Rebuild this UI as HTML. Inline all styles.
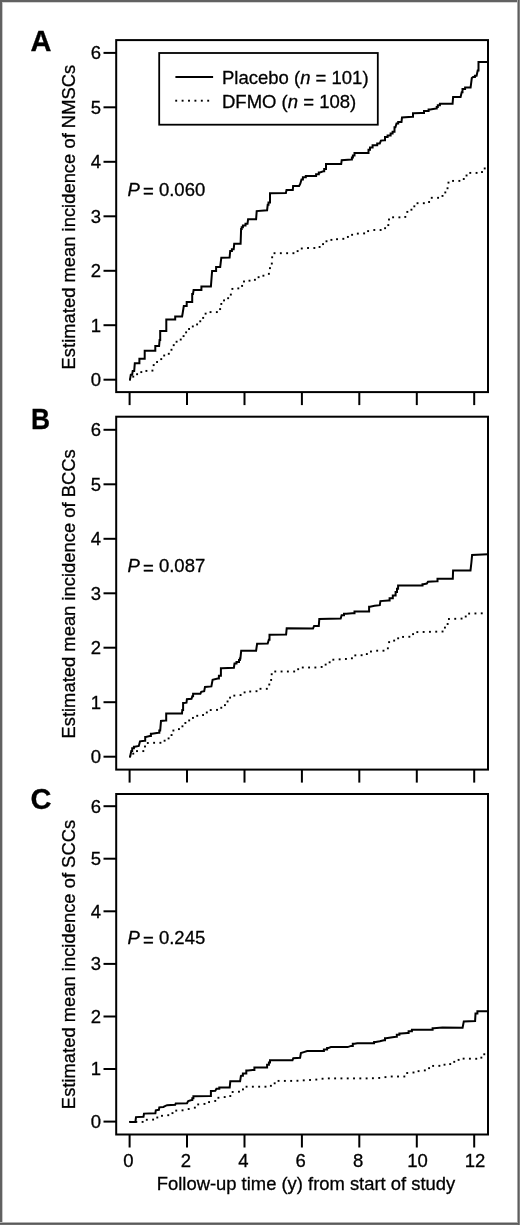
<!DOCTYPE html>
<html><head><meta charset="utf-8"><title>Figure</title>
<style>
html,body{margin:0;padding:0;background:#fff;}
body{width:520px;height:1225px;position:relative;overflow:hidden;}
svg{position:absolute;left:0;top:0;}
text{font-family:"Liberation Sans",Arial,Helvetica,sans-serif;fill:#000;stroke:#000;stroke-width:0.3px;}
.b{position:absolute;}
</style></head><body>
<svg width="520" height="1225" viewBox="0 0 520 1225">

<rect x="116.2" y="40.1" width="371.8" height="352.0" fill="none" stroke="#000" stroke-width="2"/>
<line x1="103.5" y1="379.7" x2="116.2" y2="379.7" stroke="#000" stroke-width="2"/>
<text x="101" y="386.0" font-size="18.5" text-anchor="end">0</text>
<line x1="103.5" y1="325.2" x2="116.2" y2="325.2" stroke="#000" stroke-width="2"/>
<text x="101" y="331.5" font-size="18.5" text-anchor="end">1</text>
<line x1="103.5" y1="270.8" x2="116.2" y2="270.8" stroke="#000" stroke-width="2"/>
<text x="101" y="277.1" font-size="18.5" text-anchor="end">2</text>
<line x1="103.5" y1="216.3" x2="116.2" y2="216.3" stroke="#000" stroke-width="2"/>
<text x="101" y="222.6" font-size="18.5" text-anchor="end">3</text>
<line x1="103.5" y1="161.8" x2="116.2" y2="161.8" stroke="#000" stroke-width="2"/>
<text x="101" y="168.1" font-size="18.5" text-anchor="end">4</text>
<line x1="103.5" y1="107.3" x2="116.2" y2="107.3" stroke="#000" stroke-width="2"/>
<text x="101" y="113.6" font-size="18.5" text-anchor="end">5</text>
<line x1="103.5" y1="52.9" x2="116.2" y2="52.9" stroke="#000" stroke-width="2"/>
<text x="101" y="59.2" font-size="18.5" text-anchor="end">6</text>
<line x1="129.6" y1="392.1" x2="129.6" y2="405.1" stroke="#000" stroke-width="2"/>
<line x1="187.0" y1="392.1" x2="187.0" y2="405.1" stroke="#000" stroke-width="2"/>
<line x1="244.5" y1="392.1" x2="244.5" y2="405.1" stroke="#000" stroke-width="2"/>
<line x1="301.9" y1="392.1" x2="301.9" y2="405.1" stroke="#000" stroke-width="2"/>
<line x1="359.3" y1="392.1" x2="359.3" y2="405.1" stroke="#000" stroke-width="2"/>
<line x1="416.8" y1="392.1" x2="416.8" y2="405.1" stroke="#000" stroke-width="2"/>
<line x1="474.2" y1="392.1" x2="474.2" y2="405.1" stroke="#000" stroke-width="2"/>
<text x="30.6" y="50.8" font-size="29" font-weight="bold">A</text>
<text transform="translate(75,217.1) rotate(-90)" font-size="18.4" text-anchor="middle">Estimated mean incidence of NMSCs</text>
<text x="127.5" y="196.0" font-size="18.5"><tspan font-style="italic">P</tspan><tspan dx="-2" dy="1.3"> =</tspan><tspan dy="-1.3"> 0.060</tspan></text>
<g fill="#000"><rect x="129.05" y="378.75" width="1.9" height="1.9"/><rect x="132.30" y="375.70" width="1.9" height="1.9"/><rect x="136.15" y="373.25" width="1.9" height="1.9"/><rect x="140.35" y="371.15" width="1.9" height="1.9"/><rect x="145.45" y="369.95" width="1.9" height="1.9"/><rect x="151.48" y="369.65" width="1.9" height="1.9"/><rect x="152.73" y="364.15" width="1.9" height="1.9"/><rect x="156.11" y="361.06" width="1.9" height="1.9"/><rect x="160.30" y="358.16" width="1.9" height="1.9"/><rect x="163.24" y="354.55" width="1.9" height="1.9"/><rect x="167.84" y="352.85" width="1.9" height="1.9"/><rect x="170.53" y="348.81" width="1.9" height="1.9"/><rect x="172.77" y="344.20" width="1.9" height="1.9"/><rect x="175.65" y="340.78" width="1.9" height="1.9"/><rect x="179.77" y="338.60" width="1.9" height="1.9"/><rect x="182.62" y="335.15" width="1.9" height="1.9"/><rect x="185.17" y="331.40" width="1.9" height="1.9"/><rect x="188.10" y="328.03" width="1.9" height="1.9"/><rect x="191.85" y="325.48" width="1.9" height="1.9"/><rect x="196.15" y="323.48" width="1.9" height="1.9"/><rect x="199.30" y="320.33" width="1.9" height="1.9"/><rect x="202.20" y="316.93" width="1.9" height="1.9"/><rect x="204.66" y="312.70" width="1.9" height="1.9"/><rect x="209.59" y="311.15" width="1.9" height="1.9"/><rect x="215.89" y="311.15" width="1.9" height="1.9"/><rect x="219.18" y="308.14" width="1.9" height="1.9"/><rect x="220.35" y="303.01" width="1.9" height="1.9"/><rect x="223.09" y="299.45" width="1.9" height="1.9"/><rect x="227.19" y="297.25" width="1.9" height="1.9"/><rect x="229.88" y="293.64" width="1.9" height="1.9"/><rect x="231.44" y="287.94" width="1.9" height="1.9"/><rect x="237.35" y="287.45" width="1.9" height="1.9"/><rect x="241.15" y="284.95" width="1.9" height="1.9"/><rect x="243.05" y="280.55" width="1.9" height="1.9"/><rect x="248.55" y="279.75" width="1.9" height="1.9"/><rect x="253.95" y="278.85" width="1.9" height="1.9"/><rect x="257.65" y="276.25" width="1.9" height="1.9"/><rect x="262.45" y="274.75" width="1.9" height="1.9"/><rect x="267.93" y="272.88" width="1.9" height="1.9"/><rect x="269.02" y="267.19" width="1.9" height="1.9"/><rect x="270.86" y="262.61" width="1.9" height="1.9"/><rect x="271.21" y="256.32" width="1.9" height="1.9"/><rect x="273.57" y="252.25" width="1.9" height="1.9"/><rect x="279.87" y="252.25" width="1.9" height="1.9"/><rect x="286.17" y="252.25" width="1.9" height="1.9"/><rect x="292.47" y="252.25" width="1.9" height="1.9"/><rect x="296.67" y="250.15" width="1.9" height="1.9"/><rect x="300.82" y="247.54" width="1.9" height="1.9"/><rect x="307.08" y="247.05" width="1.9" height="1.9"/><rect x="313.38" y="247.05" width="1.9" height="1.9"/><rect x="318.65" y="246.02" width="1.9" height="1.9"/><rect x="322.10" y="243.17" width="1.9" height="1.9"/><rect x="325.55" y="240.32" width="1.9" height="1.9"/><rect x="330.45" y="238.92" width="1.9" height="1.9"/><rect x="336.08" y="238.25" width="1.9" height="1.9"/><rect x="342.36" y="237.87" width="1.9" height="1.9"/><rect x="346.94" y="235.95" width="1.9" height="1.9"/><rect x="351.15" y="233.86" width="1.9" height="1.9"/><rect x="356.88" y="232.65" width="1.9" height="1.9"/><rect x="363.17" y="232.45" width="1.9" height="1.9"/><rect x="367.17" y="230.15" width="1.9" height="1.9"/><rect x="373.35" y="229.05" width="1.9" height="1.9"/><rect x="379.65" y="229.05" width="1.9" height="1.9"/><rect x="384.15" y="227.25" width="1.9" height="1.9"/><rect x="387.35" y="224.15" width="1.9" height="1.9"/><rect x="388.05" y="218.55" width="1.9" height="1.9"/><rect x="392.15" y="216.35" width="1.9" height="1.9"/><rect x="398.45" y="216.40" width="1.9" height="1.9"/><rect x="404.33" y="215.96" width="1.9" height="1.9"/><rect x="406.38" y="210.95" width="1.9" height="1.9"/><rect x="410.48" y="208.75" width="1.9" height="1.9"/><rect x="413.38" y="205.35" width="1.9" height="1.9"/><rect x="416.58" y="202.25" width="1.9" height="1.9"/><rect x="422.88" y="202.25" width="1.9" height="1.9"/><rect x="428.13" y="201.04" width="1.9" height="1.9"/><rect x="430.82" y="196.85" width="1.9" height="1.9"/><rect x="437.12" y="196.85" width="1.9" height="1.9"/><rect x="441.55" y="194.98" width="1.9" height="1.9"/><rect x="444.35" y="191.48" width="1.9" height="1.9"/><rect x="446.58" y="187.29" width="1.9" height="1.9"/><rect x="447.53" y="181.67" width="1.9" height="1.9"/><rect x="452.11" y="179.95" width="1.9" height="1.9"/><rect x="458.41" y="179.95" width="1.9" height="1.9"/><rect x="462.81" y="178.05" width="1.9" height="1.9"/><rect x="465.60" y="174.54" width="1.9" height="1.9"/><rect x="469.31" y="171.95" width="1.9" height="1.9"/><rect x="475.61" y="171.95" width="1.9" height="1.9"/><rect x="481.05" y="171.09" width="1.9" height="1.9"/><rect x="483.76" y="167.50" width="1.9" height="1.9"/></g>
<polyline points="130.0,379.7 130.8,374.7 132.2,374.7 132.7,370.9 134.2,370.9 134.8,363.2 139.4,363.2 139.4,358.8 144.7,358.8 144.7,350.7 155.3,350.7 155.3,345.9 159.1,345.9 159.6,340.0 160.2,340.0 160.2,331.0 160.8,331.0 166.3,331.0 166.3,319.4 175.2,319.4 175.2,316.5 182.1,316.5 182.7,313.0 183.8,306.1 186.7,306.1 186.7,302.1 191.3,302.1 192.2,302.1 192.2,294.0 193.0,294.0 193.6,290.0 200.6,290.0 201.4,290.0 201.4,286.5 202.3,286.5 210.9,286.5 212.1,271.0 216.1,271.0 216.1,266.9 220.2,266.9 221.3,257.7 229.6,257.5 230.2,250.9 231.9,250.9 231.9,249.2 233.7,249.2 234.2,243.8 240.6,243.8 241.1,229.0 241.7,229.0 241.7,227.3 242.9,227.3 242.9,225.6 243.5,225.6 245.5,225.6 245.5,223.8 247.5,223.8 248.1,219.2 256.1,219.2 256.7,211.1 267.1,210.2 267.7,204.8 268.5,204.8 268.5,202.5 269.4,202.5 270.0,202.5 270.0,193.3 270.6,193.3 285.9,192.9 286.5,190.1 292.8,190.1 293.1,186.0 299.1,186.0 300.3,183.7 301.5,179.4 302.9,179.4 302.9,177.3 304.3,177.3 305.8,177.3 305.8,176.0 307.2,176.0 314.7,176.0 316.1,176.0 316.1,174.2 317.6,174.2 318.8,174.2 318.8,172.5 319.9,172.5 323.4,171.3 324.2,171.3 324.2,169.0 325.1,169.0 326.0,169.0 326.0,164.1 326.8,164.1 341.2,164.1 341.7,160.2 351.5,159.6 351.9,159.6 351.9,157.6 352.9,157.6 352.9,155.6 353.3,155.6 354.5,155.6 354.5,152.9 355.6,152.9 367.7,152.9 368.5,152.9 368.5,149.8 369.4,149.8 370.0,149.8 370.0,147.5 370.6,147.5 372.6,147.5 372.6,145.2 374.6,145.2 377.2,145.2 377.2,143.4 379.8,143.4 380.9,140.6 384.4,140.2 385.0,140.2 385.0,137.1 385.6,137.1 387.6,137.1 387.6,135.6 389.6,135.6 390.6,135.6 390.6,133.6 392.6,133.6 392.6,131.7 393.6,131.7 394.5,131.7 394.5,127.3 395.4,127.3 396.5,123.6 398.2,123.6 398.2,122.1 400.0,122.1 401.5,122.1 402.0,117.5 412.4,116.7 413.0,116.7 413.0,113.3 413.6,113.3 421.1,112.9 424.0,112.9 424.0,111.0 426.8,111.0 428.6,111.0 428.6,109.5 430.3,109.5 436.1,108.6 436.7,108.6 436.7,106.9 437.8,106.9 437.8,105.2 438.4,105.2 439.9,105.2 439.9,103.7 441.3,103.7 452.6,103.7 453.1,96.9 460.6,96.9 461.7,92.3 462.5,92.3 462.5,88.9 463.4,88.9 465.1,88.9 465.1,87.5 466.9,87.5 470.6,87.5 471.8,78.0 473.1,76.9 474.9,76.9 474.9,75.7 476.6,75.7 477.7,70.6 478.5,70.6 478.5,62.0 479.4,62.0 488.0,62.0" fill="none" stroke="#000" stroke-width="2" stroke-linejoin="miter"/>
<rect x="116.2" y="416.7" width="371.8" height="352.9" fill="none" stroke="#000" stroke-width="2"/>
<line x1="103.5" y1="756.7" x2="116.2" y2="756.7" stroke="#000" stroke-width="2"/>
<text x="101" y="763.0" font-size="18.5" text-anchor="end">0</text>
<line x1="103.5" y1="702.2" x2="116.2" y2="702.2" stroke="#000" stroke-width="2"/>
<text x="101" y="708.5" font-size="18.5" text-anchor="end">1</text>
<line x1="103.5" y1="647.7" x2="116.2" y2="647.7" stroke="#000" stroke-width="2"/>
<text x="101" y="654.0" font-size="18.5" text-anchor="end">2</text>
<line x1="103.5" y1="593.3" x2="116.2" y2="593.3" stroke="#000" stroke-width="2"/>
<text x="101" y="599.6" font-size="18.5" text-anchor="end">3</text>
<line x1="103.5" y1="538.8" x2="116.2" y2="538.8" stroke="#000" stroke-width="2"/>
<text x="101" y="545.1" font-size="18.5" text-anchor="end">4</text>
<line x1="103.5" y1="484.3" x2="116.2" y2="484.3" stroke="#000" stroke-width="2"/>
<text x="101" y="490.6" font-size="18.5" text-anchor="end">5</text>
<line x1="103.5" y1="429.8" x2="116.2" y2="429.8" stroke="#000" stroke-width="2"/>
<text x="101" y="436.1" font-size="18.5" text-anchor="end">6</text>
<line x1="129.6" y1="769.6" x2="129.6" y2="782.6" stroke="#000" stroke-width="2"/>
<line x1="187.0" y1="769.6" x2="187.0" y2="782.6" stroke="#000" stroke-width="2"/>
<line x1="244.5" y1="769.6" x2="244.5" y2="782.6" stroke="#000" stroke-width="2"/>
<line x1="301.9" y1="769.6" x2="301.9" y2="782.6" stroke="#000" stroke-width="2"/>
<line x1="359.3" y1="769.6" x2="359.3" y2="782.6" stroke="#000" stroke-width="2"/>
<line x1="416.8" y1="769.6" x2="416.8" y2="782.6" stroke="#000" stroke-width="2"/>
<line x1="474.2" y1="769.6" x2="474.2" y2="782.6" stroke="#000" stroke-width="2"/>
<text transform="translate(31.0,428.8) scale(0.91,1)" font-size="29" font-weight="bold">B</text>
<text transform="translate(75,593.9) rotate(-90)" font-size="18.4" text-anchor="middle">Estimated mean incidence of BCCs</text>
<text x="127.5" y="572.3" font-size="18.5"><tspan font-style="italic">P</tspan><tspan dx="-2" dy="1.3"> =</tspan><tspan dy="-1.3"> 0.087</tspan></text>
<g fill="#000"><rect x="129.05" y="755.75" width="1.9" height="1.9"/><rect x="132.30" y="752.70" width="1.9" height="1.9"/><rect x="136.05" y="750.15" width="1.9" height="1.9"/><rect x="142.35" y="750.15" width="1.9" height="1.9"/><rect x="144.05" y="745.55" width="1.9" height="1.9"/><rect x="146.85" y="742.05" width="1.9" height="1.9"/><rect x="153.15" y="741.85" width="1.9" height="1.9"/><rect x="159.45" y="741.85" width="1.9" height="1.9"/><rect x="163.65" y="739.75" width="1.9" height="1.9"/><rect x="167.65" y="737.45" width="1.9" height="1.9"/><rect x="170.60" y="734.10" width="1.9" height="1.9"/><rect x="172.44" y="729.57" width="1.9" height="1.9"/><rect x="178.00" y="728.16" width="1.9" height="1.9"/><rect x="181.49" y="725.35" width="1.9" height="1.9"/><rect x="184.43" y="721.99" width="1.9" height="1.9"/><rect x="188.23" y="719.49" width="1.9" height="1.9"/><rect x="191.99" y="716.95" width="1.9" height="1.9"/><rect x="196.28" y="714.84" width="1.9" height="1.9"/><rect x="202.10" y="714.08" width="1.9" height="1.9"/><rect x="205.85" y="711.53" width="1.9" height="1.9"/><rect x="209.77" y="709.09" width="1.9" height="1.9"/><rect x="216.07" y="708.93" width="1.9" height="1.9"/><rect x="220.32" y="706.80" width="1.9" height="1.9"/><rect x="224.00" y="704.18" width="1.9" height="1.9"/><rect x="226.62" y="700.51" width="1.9" height="1.9"/><rect x="229.12" y="696.70" width="1.9" height="1.9"/><rect x="233.37" y="694.65" width="1.9" height="1.9"/><rect x="239.61" y="694.12" width="1.9" height="1.9"/><rect x="243.65" y="691.43" width="1.9" height="1.9"/><rect x="249.26" y="690.56" width="1.9" height="1.9"/><rect x="255.55" y="690.25" width="1.9" height="1.9"/><rect x="259.55" y="687.85" width="1.9" height="1.9"/><rect x="265.85" y="687.85" width="1.9" height="1.9"/><rect x="268.32" y="683.57" width="1.9" height="1.9"/><rect x="270.18" y="679.01" width="1.9" height="1.9"/><rect x="270.75" y="673.28" width="1.9" height="1.9"/><rect x="274.32" y="670.55" width="1.9" height="1.9"/><rect x="280.62" y="670.55" width="1.9" height="1.9"/><rect x="286.92" y="670.55" width="1.9" height="1.9"/><rect x="293.22" y="670.55" width="1.9" height="1.9"/><rect x="297.22" y="668.25" width="1.9" height="1.9"/><rect x="301.82" y="666.55" width="1.9" height="1.9"/><rect x="308.12" y="666.55" width="1.9" height="1.9"/><rect x="314.42" y="666.55" width="1.9" height="1.9"/><rect x="320.69" y="666.00" width="1.9" height="1.9"/><rect x="324.69" y="663.65" width="1.9" height="1.9"/><rect x="328.69" y="661.35" width="1.9" height="1.9"/><rect x="332.39" y="658.74" width="1.9" height="1.9"/><rect x="338.68" y="658.38" width="1.9" height="1.9"/><rect x="344.97" y="658.01" width="1.9" height="1.9"/><rect x="350.95" y="657.34" width="1.9" height="1.9"/><rect x="354.36" y="654.42" width="1.9" height="1.9"/><rect x="360.65" y="654.26" width="1.9" height="1.9"/><rect x="365.90" y="653.10" width="1.9" height="1.9"/><rect x="370.01" y="650.59" width="1.9" height="1.9"/><rect x="376.22" y="649.75" width="1.9" height="1.9"/><rect x="382.52" y="649.75" width="1.9" height="1.9"/><rect x="386.92" y="647.35" width="1.9" height="1.9"/><rect x="388.17" y="641.18" width="1.9" height="1.9"/><rect x="393.20" y="639.65" width="1.9" height="1.9"/><rect x="397.20" y="637.35" width="1.9" height="1.9"/><rect x="402.10" y="635.95" width="1.9" height="1.9"/><rect x="408.39" y="635.80" width="1.9" height="1.9"/><rect x="412.12" y="633.18" width="1.9" height="1.9"/><rect x="416.39" y="631.15" width="1.9" height="1.9"/><rect x="422.69" y="631.02" width="1.9" height="1.9"/><rect x="428.99" y="630.87" width="1.9" height="1.9"/><rect x="435.29" y="630.72" width="1.9" height="1.9"/><rect x="441.59" y="630.57" width="1.9" height="1.9"/><rect x="443.98" y="626.64" width="1.9" height="1.9"/><rect x="446.69" y="623.05" width="1.9" height="1.9"/><rect x="447.99" y="618.05" width="1.9" height="1.9"/><rect x="454.28" y="617.85" width="1.9" height="1.9"/><rect x="460.58" y="617.65" width="1.9" height="1.9"/><rect x="464.78" y="615.55" width="1.9" height="1.9"/><rect x="468.18" y="612.64" width="1.9" height="1.9"/><rect x="474.48" y="612.51" width="1.9" height="1.9"/><rect x="480.78" y="612.38" width="1.9" height="1.9"/></g>
<polyline points="130.0,756.7 130.2,756.3 131.3,751.1 132.2,751.1 132.2,748.2 133.1,748.2 133.9,748.2 133.9,746.7 134.8,746.7 138.8,745.9 140.0,741.3 144.6,740.7 145.2,740.7 145.2,737.0 145.8,737.0 149.8,736.1 150.9,736.1 150.9,733.8 152.1,733.8 158.4,732.7 159.3,732.7 159.3,730.4 160.2,730.4 161.0,720.9 165.4,720.6 166.2,720.6 166.2,713.6 167.1,713.6 182.0,713.6 182.3,710.0 183.1,710.0 183.1,703.1 183.8,703.1 186.5,702.7 186.9,699.2 191.5,698.8 192.3,696.2 193.1,696.2 193.1,693.8 193.8,693.8 200.4,693.8 201.2,691.9 204.2,691.2 205.0,686.9 211.4,686.4 212.6,679.8 217.8,678.6 218.9,678.6 218.9,675.7 220.1,675.7 220.9,675.7 220.9,668.3 221.8,668.3 233.9,667.7 234.5,663.6 236.5,663.6 236.5,661.9 238.5,661.9 239.0,661.9 239.0,660.1 239.9,660.1 239.9,658.4 240.4,658.4 241.2,650.7 256.1,650.7 257.1,643.8 267.7,643.6 268.8,639.8 269.5,639.8 269.5,634.8 270.2,634.8 286.1,634.6 286.7,628.3 313.0,628.6 314.1,625.9 318.8,625.9 319.3,619.0 340.7,618.4 341.6,615.2 344.0,615.2 344.0,613.8 346.4,613.8 352.2,613.3 354.5,613.3 354.5,611.4 356.8,611.4 368.3,611.5 369.1,611.5 369.1,606.7 370.0,606.7 374.6,605.8 379.8,605.2 380.4,601.1 388.4,600.6 389.6,600.6 389.6,598.3 390.8,598.3 392.8,598.3 392.8,595.4 394.8,595.4 395.6,595.4 395.6,591.9 396.5,591.9 397.0,591.9 397.0,588.8 398.1,588.8 398.1,585.6 398.6,585.6 421.7,585.6 422.5,585.6 422.5,584.2 423.4,584.2 426.8,583.6 428.0,581.7 436.6,581.3 437.5,581.3 437.5,578.7 438.4,578.7 452.8,578.7 453.1,570.5 470.5,570.4 471.4,562.5 472.1,554.9 488.0,554.2" fill="none" stroke="#000" stroke-width="2" stroke-linejoin="miter"/>
<rect x="116.2" y="794.0" width="371.8" height="340.5" fill="none" stroke="#000" stroke-width="2"/>
<line x1="103.5" y1="1121.6" x2="116.2" y2="1121.6" stroke="#000" stroke-width="2"/>
<text x="101" y="1127.9" font-size="18.5" text-anchor="end">0</text>
<line x1="103.5" y1="1069.0" x2="116.2" y2="1069.0" stroke="#000" stroke-width="2"/>
<text x="101" y="1075.3" font-size="18.5" text-anchor="end">1</text>
<line x1="103.5" y1="1016.5" x2="116.2" y2="1016.5" stroke="#000" stroke-width="2"/>
<text x="101" y="1022.8" font-size="18.5" text-anchor="end">2</text>
<line x1="103.5" y1="963.9" x2="116.2" y2="963.9" stroke="#000" stroke-width="2"/>
<text x="101" y="970.2" font-size="18.5" text-anchor="end">3</text>
<line x1="103.5" y1="911.3" x2="116.2" y2="911.3" stroke="#000" stroke-width="2"/>
<text x="101" y="917.6" font-size="18.5" text-anchor="end">4</text>
<line x1="103.5" y1="858.7" x2="116.2" y2="858.7" stroke="#000" stroke-width="2"/>
<text x="101" y="865.0" font-size="18.5" text-anchor="end">5</text>
<line x1="103.5" y1="806.2" x2="116.2" y2="806.2" stroke="#000" stroke-width="2"/>
<text x="101" y="812.5" font-size="18.5" text-anchor="end">6</text>
<line x1="129.6" y1="1134.5" x2="129.6" y2="1147.5" stroke="#000" stroke-width="2"/>
<line x1="187.0" y1="1134.5" x2="187.0" y2="1147.5" stroke="#000" stroke-width="2"/>
<line x1="244.5" y1="1134.5" x2="244.5" y2="1147.5" stroke="#000" stroke-width="2"/>
<line x1="301.9" y1="1134.5" x2="301.9" y2="1147.5" stroke="#000" stroke-width="2"/>
<line x1="359.3" y1="1134.5" x2="359.3" y2="1147.5" stroke="#000" stroke-width="2"/>
<line x1="416.8" y1="1134.5" x2="416.8" y2="1147.5" stroke="#000" stroke-width="2"/>
<line x1="474.2" y1="1134.5" x2="474.2" y2="1147.5" stroke="#000" stroke-width="2"/>
<text x="30.6" y="809.2" font-size="29" font-weight="bold">C</text>
<text transform="translate(75,964.5) rotate(-90)" font-size="18.4" text-anchor="middle">Estimated mean incidence of SCCs</text>
<text x="127.5" y="944.3" font-size="18.5"><tspan font-style="italic">P</tspan><tspan dx="-2" dy="1.3"> =</tspan><tspan dy="-1.3"> 0.245</tspan></text>
<g fill="#000"><rect x="129.05" y="1120.95" width="1.9" height="1.9"/><rect x="135.35" y="1120.95" width="1.9" height="1.9"/><rect x="141.65" y="1120.95" width="1.9" height="1.9"/><rect x="145.85" y="1118.83" width="1.9" height="1.9"/><rect x="152.15" y="1118.65" width="1.9" height="1.9"/><rect x="156.35" y="1116.55" width="1.9" height="1.9"/><rect x="161.04" y="1114.86" width="1.9" height="1.9"/><rect x="167.30" y="1114.25" width="1.9" height="1.9"/><rect x="171.53" y="1112.17" width="1.9" height="1.9"/><rect x="175.30" y="1109.65" width="1.9" height="1.9"/><rect x="181.57" y="1109.37" width="1.9" height="1.9"/><rect x="187.74" y="1108.07" width="1.9" height="1.9"/><rect x="193.89" y="1106.70" width="1.9" height="1.9"/><rect x="197.25" y="1103.46" width="1.9" height="1.9"/><rect x="203.52" y="1102.96" width="1.9" height="1.9"/><rect x="208.11" y="1101.15" width="1.9" height="1.9"/><rect x="214.28" y="1099.97" width="1.9" height="1.9"/><rect x="217.47" y="1096.82" width="1.9" height="1.9"/><rect x="223.73" y="1096.10" width="1.9" height="1.9"/><rect x="229.35" y="1095.08" width="1.9" height="1.9"/><rect x="231.71" y="1091.04" width="1.9" height="1.9"/><rect x="238.01" y="1090.75" width="1.9" height="1.9"/><rect x="242.01" y="1088.45" width="1.9" height="1.9"/><rect x="245.61" y="1085.75" width="1.9" height="1.9"/><rect x="251.91" y="1085.75" width="1.9" height="1.9"/><rect x="258.21" y="1085.75" width="1.9" height="1.9"/><rect x="264.51" y="1085.75" width="1.9" height="1.9"/><rect x="269.93" y="1084.87" width="1.9" height="1.9"/><rect x="273.71" y="1082.35" width="1.9" height="1.9"/><rect x="277.61" y="1079.95" width="1.9" height="1.9"/><rect x="283.91" y="1079.95" width="1.9" height="1.9"/><rect x="290.21" y="1079.95" width="1.9" height="1.9"/><rect x="296.50" y="1079.80" width="1.9" height="1.9"/><rect x="302.79" y="1079.39" width="1.9" height="1.9"/><rect x="309.08" y="1079.02" width="1.9" height="1.9"/><rect x="315.36" y="1078.62" width="1.9" height="1.9"/><rect x="321.60" y="1077.77" width="1.9" height="1.9"/><rect x="327.87" y="1077.45" width="1.9" height="1.9"/><rect x="334.17" y="1077.45" width="1.9" height="1.9"/><rect x="340.47" y="1077.45" width="1.9" height="1.9"/><rect x="346.77" y="1077.45" width="1.9" height="1.9"/><rect x="353.07" y="1077.45" width="1.9" height="1.9"/><rect x="359.37" y="1077.45" width="1.9" height="1.9"/><rect x="365.67" y="1077.45" width="1.9" height="1.9"/><rect x="371.96" y="1077.29" width="1.9" height="1.9"/><rect x="378.26" y="1076.99" width="1.9" height="1.9"/><rect x="384.50" y="1076.17" width="1.9" height="1.9"/><rect x="390.77" y="1075.55" width="1.9" height="1.9"/><rect x="397.07" y="1075.55" width="1.9" height="1.9"/><rect x="403.37" y="1075.55" width="1.9" height="1.9"/><rect x="406.26" y="1072.06" width="1.9" height="1.9"/><rect x="412.54" y="1071.55" width="1.9" height="1.9"/><rect x="417.62" y="1070.20" width="1.9" height="1.9"/><rect x="423.87" y="1069.45" width="1.9" height="1.9"/><rect x="428.13" y="1067.21" width="1.9" height="1.9"/><rect x="432.17" y="1064.95" width="1.9" height="1.9"/><rect x="438.40" y="1064.88" width="1.9" height="1.9"/><rect x="443.57" y="1063.75" width="1.9" height="1.9"/><rect x="449.25" y="1063.13" width="1.9" height="1.9"/><rect x="453.30" y="1060.88" width="1.9" height="1.9"/><rect x="457.65" y="1058.93" width="1.9" height="1.9"/><rect x="462.67" y="1057.68" width="1.9" height="1.9"/><rect x="468.97" y="1057.75" width="1.9" height="1.9"/><rect x="475.27" y="1057.82" width="1.9" height="1.9"/><rect x="480.40" y="1056.68" width="1.9" height="1.9"/><rect x="483.32" y="1053.30" width="1.9" height="1.9"/></g>
<polyline points="130.0,1121.9 135.4,1121.9 136.0,1117.1 143.5,1116.7 144.0,1113.6 155.4,1113.2 155.8,1110.3 158.9,1109.8 159.3,1107.3 163.4,1106.9 165.5,1105.9 167.1,1105.2 175.2,1104.8 175.7,1103.4 187.0,1103.3 188.2,1101.0 191.7,1100.1 192.3,1100.1 192.3,1098.2 193.4,1098.2 193.4,1096.3 194.0,1096.3 210.1,1096.0 210.9,1096.0 210.9,1091.1 211.8,1091.1 215.3,1090.9 216.4,1088.8 219.3,1088.8 219.3,1087.5 222.2,1087.5 229.7,1087.5 230.3,1081.3 240.1,1081.3 240.9,1076.1 241.2,1075.8 242.9,1075.8 242.9,1073.4 244.6,1073.4 246.3,1073.4 246.3,1070.6 248.1,1070.6 252.7,1070.0 254.4,1070.0 254.4,1067.5 256.1,1067.5 266.0,1067.5 267.1,1067.5 267.1,1064.8 268.3,1064.8 268.9,1064.8 268.9,1062.5 270.0,1062.5 270.0,1060.2 270.6,1060.2 292.5,1060.2 293.3,1058.2 300.1,1057.7 300.9,1053.1 303.8,1052.1 307.2,1051.0 322.2,1051.0 323.9,1051.0 323.9,1049.4 325.7,1049.4 327.1,1049.4 327.1,1047.9 328.6,1047.9 330.9,1047.1 347.6,1047.1 351.1,1045.9 352.8,1045.9 352.8,1043.8 354.5,1043.8 357.3,1043.3 372.3,1043.3 374.1,1043.3 374.1,1042.1 375.8,1042.1 379.8,1041.3 383.8,1040.2 385.0,1040.2 385.0,1038.2 386.1,1038.2 390.8,1037.5 395.9,1036.7 396.8,1036.7 396.8,1034.8 397.7,1034.8 399.4,1034.8 399.4,1033.6 401.1,1033.6 407.5,1032.9 408.6,1032.9 408.6,1031.3 409.8,1031.3 411.9,1031.3 411.9,1029.8 414.0,1029.8 431.5,1029.8 432.6,1029.8 432.6,1028.3 433.8,1028.3 442.4,1027.5 462.6,1027.8 463.8,1021.4 475.1,1021.0 475.5,1013.6 477.4,1013.6 477.4,1011.3 479.4,1011.3 488.0,1011.3" fill="none" stroke="#000" stroke-width="2" stroke-linejoin="miter"/>
<rect x="159.2" y="53" width="218.6" height="71.7" fill="#fff" stroke="#000" stroke-width="1.8"/>
<line x1="175.4" y1="77" x2="213.1" y2="77" stroke="#000" stroke-width="2"/>
<g fill="#000"><rect x="175.25" y="99.75" width="1.9" height="1.9"/><rect x="181.65" y="99.75" width="1.9" height="1.9"/><rect x="188.05" y="99.75" width="1.9" height="1.9"/><rect x="194.45" y="99.75" width="1.9" height="1.9"/><rect x="200.85" y="99.75" width="1.9" height="1.9"/><rect x="207.25" y="99.75" width="1.9" height="1.9"/></g>
<text x="222" y="83.8" font-size="18.5">Placebo (<tspan font-style="italic">n</tspan> = 101)</text>
<text x="222" y="107.5" font-size="18.5">DFMO (<tspan font-style="italic">n</tspan> = 108)</text>
<text x="128.4" y="1167" font-size="18.5" text-anchor="middle">0</text>
<text x="185.8" y="1167" font-size="18.5" text-anchor="middle">2</text>
<text x="243.3" y="1167" font-size="18.5" text-anchor="middle">4</text>
<text x="300.7" y="1167" font-size="18.5" text-anchor="middle">6</text>
<text x="358.1" y="1167" font-size="18.5" text-anchor="middle">8</text>
<text x="417.6" y="1167" font-size="18.5" text-anchor="middle">10</text>
<text x="475.0" y="1167" font-size="18.5" text-anchor="middle">12</text>
<text x="306" y="1189.8" font-size="18.4" text-anchor="middle">Follow-up time (y) from start of study</text>
</svg>
<div class="b" style="left:0;top:0;width:520px;height:2px;background:#616161"></div>
<div class="b" style="left:0;top:2px;width:520px;height:1px;background:#d4d4d4"></div>
<div class="b" style="left:0;top:0;width:2px;height:1225px;background:#616161"></div>
<div class="b" style="left:2px;top:2px;width:1px;height:1220px;background:#c8c8c8"></div>
<div class="b" style="left:517px;top:0;width:1px;height:1225px;background:#a6a6a6"></div>
<div class="b" style="left:518px;top:0;width:1px;height:1225px;background:#5e5e5e"></div>
<div class="b" style="left:519px;top:0;width:1px;height:1225px;background:#838383"></div>
<div class="b" style="left:0;top:1222px;width:517px;height:1px;background:#b0b0b0"></div>
<div class="b" style="left:0;top:1223px;width:518px;height:1px;background:#5a5a5a"></div>
<div class="b" style="left:0;top:1224px;width:518px;height:1px;background:#6e6e6e"></div>
</body></html>
